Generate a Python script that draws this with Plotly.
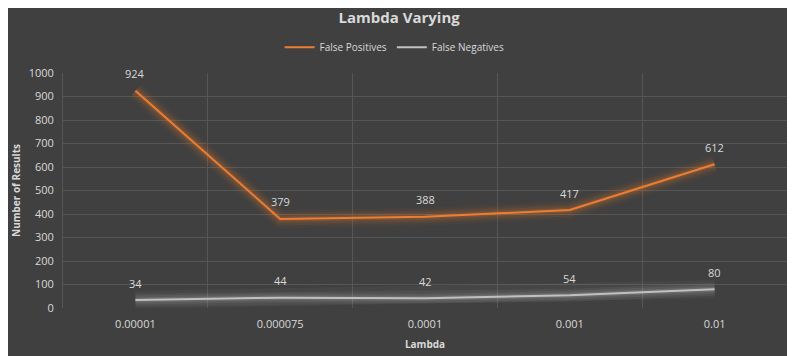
import plotly.graph_objects as go

categories = ["0.00001", "0.000075", "0.0001", "0.001", "0.01"]
false_positives = [924, 379, 388, 417, 612]
false_negatives = [34, 44, 42, 54, 80]

BG = "#404040"
GRID = "#565656"
TXT = "#d9d9d9"
ORANGE = "#ed7d31"
GRAY = "#c0c0c0"
FONT = "Open Sans"

fig = go.Figure()

def add_series(name, ys, color, glow_rgb):
    for w, a in [(18, 0.05), (13, 0.07), (9, 0.10), (5, 0.15)]:
        fig.add_trace(go.Scatter(
            x=categories, y=ys, mode="lines", showlegend=False, hoverinfo="skip",
            line=dict(color=f"rgba({glow_rgb},{a})", width=w),
        ))
    fig.add_trace(go.Scatter(
        x=categories, y=ys, name=name, mode="lines",
        line=dict(color=color, width=2),
    ))
    for i, v in enumerate(ys):
        fig.add_annotation(x=i, y=v, xref="x", yref="y", text=str(v), showarrow=False, yshift=17,
                           font=dict(family=FONT, size=11, color=TXT))

add_series("False Positives", false_positives, ORANGE, "237,125,49")
add_series("False Negatives", false_negatives, GRAY, "200,200,200")

fig.update_layout(
    width=787, height=348,
    paper_bgcolor=BG, plot_bgcolor=BG,
    margin=dict(l=51, r=8, t=65, b=48),
    font=dict(family=FONT, color=TXT, size=11),
    title=dict(text="<b>Lambda Varying</b>", x=0.497, xanchor="center", y=0.972, yanchor="middle",
               font=dict(family=FONT, size=15, color=TXT)),
    legend=dict(orientation="h", x=0.458, xanchor="center", y=1.11, yanchor="middle",
                font=dict(family=FONT, size=10, color=TXT), bgcolor="rgba(0,0,0,0)",
                itemwidth=30),
    showlegend=True,
)
fig.update_xaxes(
    type="category", tickson="boundaries", showgrid=True, gridcolor=GRID, gridwidth=1,
    showline=False, zeroline=False, ticks="", range=[-0.5, 4.5], ticklabelstandoff=8,
    tickfont=dict(family=FONT, size=11, color=TXT),
    title=dict(text="<b>Lambda</b>", font=dict(family=FONT, size=10, color=TXT), standoff=10),
)
fig.update_yaxes(
    range=[0, 1000], dtick=100, showgrid=True, gridcolor=GRID, gridwidth=1,
    zeroline=False, showline=True, linecolor=GRID, ticks="", ticklabelstandoff=6,
    tickfont=dict(family=FONT, size=11, color=TXT),
    title=dict(text="<b>Number of Results</b>", font=dict(family=FONT, size=10, color=TXT), standoff=6),
)

fig.write_html("out.html")
